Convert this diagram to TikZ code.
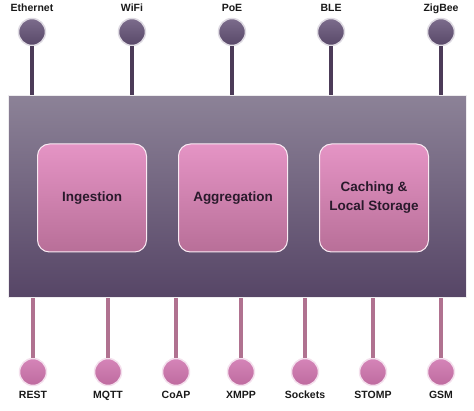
\documentclass[tikz,border=0pt]{standalone}
\usepackage{fontspec}
\setmainfont{Liberation Sans}
\usepackage{tikz}
\usetikzlibrary{positioning}
\definecolor{hubtop}{HTML}{8C8297}
\definecolor{hubbot}{HTML}{564566}
\definecolor{blocktop}{HTML}{E594C5}
\definecolor{blockbot}{HTML}{B86F98}
\definecolor{tporttop}{HTML}{7C6C8C}
\definecolor{tportbot}{HTML}{584868}
\definecolor{bporttop}{HTML}{D585B8}
\definecolor{bportbot}{HTML}{BE6A9F}
\definecolor{tstem}{HTML}{4C3B58}
\definecolor{bstem}{HTML}{B07290}
\definecolor{textdark}{HTML}{2A1A2C}
\tikzset{
  hub/.style={
    rectangle,
    minimum width=458pt,
    minimum height=202pt,
    draw=white!85!hubtop,
    line width=1pt,
    top color=hubtop,
    bottom color=hubbot
    },
  block/.style={
    rectangle,
    rounded corners=12pt,
    minimum width=109pt,
    minimum height=108pt,
    align=center,
    draw=white!80!blocktop,
    line width=1pt,
    top color=blocktop,
    bottom color=blockbot,
    text=textdark,
    font=\fontsize{13.5}{19}\selectfont\bfseries
    },
  topport/.style={
    circle,
    minimum size=27pt,
    inner sep=0pt,
    draw=white!75!tporttop,
    line width=1.5pt,
    top color=tporttop,
    bottom color=tportbot
    },
  botport/.style={
    circle,
    minimum size=27pt,
    inner sep=0pt,
    draw=white!75!bporttop,
    line width=1.5pt,
    top color=bporttop,
    bottom color=bportbot
    },
  portlabel/.style={
    inner sep=0pt,
    text height=8pt,
    text depth=2pt,
    text=black!90,
    font=\fontsize{10.5}{12}\selectfont\bfseries
    },
  topstem/.style={line width=4.5pt, draw=tstem},
  botstem/.style={line width=4pt, draw=bstem}
}

\begin{document}
\begin{tikzpicture}[x=1pt, y=1pt, node distance=30pt]
\useasboundingbox (0,0) rectangle (474,410);
% ports on top
\node (eth) [topport] at (32,378) {};
\node (wifi) [topport] at (132,378) {};
\node (poe) [topport] at (232,378) {};
\node (ble) [topport] at (331,378) {};
\node (zig) [topport] at (441,378) {};
\node (ethlbl) [portlabel, above=4pt of eth] {Ethernet};
\node (wifilbl) [portlabel, above=4pt of wifi] {WiFi};
\node (poelbl) [portlabel, above=4pt of poe] {PoE};
\node (blelbl) [portlabel, above=4pt of ble] {BLE};
\node (ziglbl) [portlabel, above=4pt of zig] {ZigBee};
% ports below
\node (rest) [botport] at (33,38) {};
\node (mqtt) [botport] at (108,38) {};
\node (coap) [botport] at (176,38) {};
\node (xmpp) [botport] at (241,38) {};
\node (sock) [botport] at (305,38) {};
\node (stomp) [botport] at (373,38) {};
\node (gsm) [botport] at (441,38) {};
\node (restlbl) [portlabel, below=4pt of rest] {REST};
\node (mqttlbl) [portlabel, below=4pt of mqtt] {MQTT};
\node (coaplbl) [portlabel, below=4pt of coap] {CoAP};
\node (xmpplbl) [portlabel, below=4pt of xmpp] {XMPP};
\node (socklbl) [portlabel, below=4pt of sock] {Sockets};
\node (stomplbl) [portlabel, below=4pt of stomp] {STOMP};
\node (gsmlbl) [portlabel, below=4pt of gsm] {GSM};
% gateway
\node (hub) [hub] at (237,213) {};
\draw[topstem] (eth.south) -- (eth.south |- hub.north);
\draw[topstem] (wifi.south) -- (wifi.south |- hub.north);
\draw[topstem] (poe.south) -- (poe.south |- hub.north);
\draw[topstem] (ble.south) -- (ble.south |- hub.north);
\draw[topstem] (zig.south) -- (zig.south |- hub.north);
\draw[botstem] (rest.north) -- (rest.north |- hub.south);
\draw[botstem] (mqtt.north) -- (mqtt.north |- hub.south);
\draw[botstem] (coap.north) -- (coap.north |- hub.south);
\draw[botstem] (xmpp.north) -- (xmpp.north |- hub.south);
\draw[botstem] (sock.north) -- (sock.north |- hub.south);
\draw[botstem] (stomp.north) -- (stomp.north |- hub.south);
\draw[botstem] (gsm.north) -- (gsm.north |- hub.south);
% functions
\node (ingest) [block] at (92,212) {Ingestion};
\node (aggr) [block, right=31pt of ingest] {Aggregation};
\node (cache) [block, right=31pt of aggr] {Caching \&\\Local Storage};
\end{tikzpicture}
\end{document}
